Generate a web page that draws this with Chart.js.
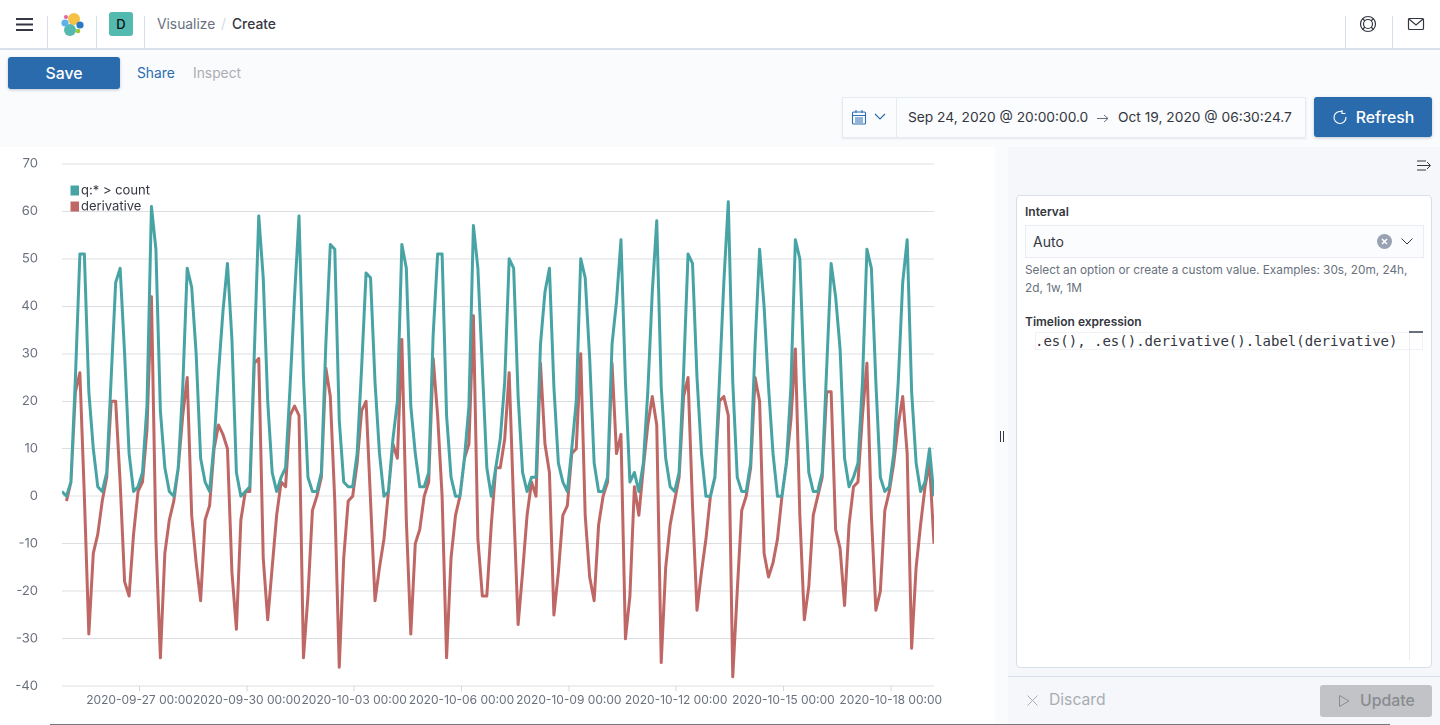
<!DOCTYPE html>
<html><head><meta charset="utf-8">
<script src="https://cdn.jsdelivr.net/npm/chart.js@4/dist/chart.umd.min.js"></script>
<style>
html,body{margin:0;padding:0;width:1440px;height:725px;overflow:hidden;background:#fafbfd;font-family:Inter,sans-serif;color:#343741}
.a{position:absolute;white-space:nowrap}
.v{position:absolute;width:1px;background:#d8dfec}
.btn{position:absolute;background:#2a6bae;border-radius:3px;color:#fff;box-shadow:0 1px 3px rgba(50,70,110,.3);display:flex;align-items:center;justify-content:center;font-weight:500;font-size:15.8px}
svg{position:absolute;overflow:visible}
</style></head><body>
<div class="a" style="left:0;top:0;width:1440px;height:48px;background:#fff;border-bottom:2px solid #d9e0eb"></div>
<svg style="left:16px;top:18px" width="17" height="13"><path d="M0 1h17M0 6.5h17M0 12h17" stroke="#343741" stroke-width="2"/></svg>
<div class="v" style="left:47px;top:16px;height:32px"></div><div class="v" style="left:96px;top:16px;height:32px"></div><div class="v" style="left:144px;top:16px;height:32px"></div>
<div class="v" style="left:1345px;top:16px;height:32px"></div><div class="v" style="left:1392px;top:16px;height:32px"></div>
<svg style="left:61px;top:13px" width="24" height="24"><circle cx="13" cy="6" r="6" fill="#f6c244"/><circle cx="9" cy="17" r="6" fill="#56b9ad"/><circle cx="4" cy="10" r="3.6" fill="#5db2ec"/><circle cx="5" cy="4" r="2" fill="#e5609f"/><circle cx="19" cy="12" r="3.6" fill="#2b78c8"/><circle cx="17" cy="18" r="2.3" fill="#9cc83c"/></svg>
<div class="a" style="left:109px;top:12px;width:24px;height:24px;background:#54b9ae;border-radius:3px;font-size:13px;font-weight:500;text-align:center;line-height:24px;color:#111">D</div>
<div class="a" style="left:157px;top:15.500px;font-size:13.8px;color:#69707d">Visualize</div>
<div class="a" style="left:221px;top:15.500px;font-size:13.8px;color:#d3dae6">/</div>
<div class="a" style="left:232px;top:15.500px;font-size:13.8px;font-weight:500">Create</div>
<svg style="left:1360px;top:16px" width="16" height="16" fill="none" stroke="#343741" stroke-width="1.2"><circle cx="8" cy="8" r="7.500"/><circle cx="8" cy="8" r="4.500"/><path d="M2.500 2.500l2.500 2.500M13.500 2.500l-2.500 2.500M2.500 13.500l2.500-2.500M13.500 13.500l-2.500-2.500"/></svg>
<svg style="left:1408px;top:18px" width="16" height="12" fill="none" stroke="#343741" stroke-width="1.2"><rect x=".5" y=".5" width="15" height="11" rx="1"/><path d="M1 1l7 6 7-6"/></svg>

<div class="btn" style="left:8px;top:57px;width:112px;height:32px">Save</div>
<div class="a" style="left:137px;top:64.500px;font-size:13.8px;color:#2a6db0">Share</div>
<div class="a" style="left:193px;top:64.500px;font-size:13.8px;color:#a9adb3">Inspect</div>

<div class="a" style="left:842px;top:97px;width:462px;height:39px;background:#fbfcfd;border:1px solid #e6eaf1;box-shadow:0 1px 2px rgba(50,70,110,.1)"></div>
<div class="v" style="left:896px;top:98px;height:39px;background:#e6eaf1"></div>
<svg style="left:852px;top:110px" width="15" height="15" fill="none" stroke="#2a6db0" stroke-width="1.1"><rect x=".5" y="2" width="13" height="12" rx="1"/><path d="M.5 5.500h13M4 0v3M10 0v3M3 8h8M3 10h8M3 12h8" /></svg>
<svg style="left:874px;top:113px" width="12" height="8" fill="none" stroke="#2a6db0" stroke-width="1.2"><path d="M1 1l5 5 5-5"/></svg>
<div class="a" style="left:908px;top:109px;font-size:13.75px">Sep 24, 2020 @ 20:00:00.0</div>
<svg style="left:1097px;top:114px" width="12" height="9" fill="none" stroke="#69707d" stroke-width="1"><path d="M0 4.500h11M7 1l4 3.500-4 3.500"/></svg>
<div class="a" style="left:1118px;top:109px;font-size:13.75px">Oct 19, 2020 @ 06:30:24.7</div>
<div class="btn" style="left:1314px;top:97px;width:118px;height:40px;padding-left:24px;box-sizing:border-box">Refresh</div>
<svg style="left:1333px;top:110px" width="14" height="14" fill="none" stroke="#fff" stroke-width="1.1"><path d="M9 1.800A6 6 0 1 0 13 7M9 0v3.500h3.500"/></svg>

<div class="a" style="left:0;top:147px;width:995px;height:578px;background:#fff"></div>
<div class="a" style="left:1008px;top:147px;width:432px;height:578px;background:#f5f7fa"></div>
<svg style="left:1417px;top:160px" width="14" height="11" fill="none" stroke="#343741" stroke-width="1"><path d="M0 1h9M0 5.500h13M0 10h9M10 2l3.500 3.500L10 9"/></svg>
<svg style="left:1000px;top:431px" width="5" height="11"><path d="M.5 0v11M3.500 0v11" stroke="#343741" stroke-width="1"/></svg>

<div class="a" style="left:1016px;top:195px;width:414px;height:471px;background:#fff;border:1px solid #d8dfec;border-radius:4px"></div>
<div class="a" style="left:1025px;top:204px;font-size:12px;font-weight:600">Interval</div>
<div class="a" style="left:1025px;top:225px;width:397px;height:31px;background:#fbfcfd;border:1px solid #e9edf3"></div>
<div class="a" style="left:1033px;top:233px;font-size:14px">Auto</div>
<svg style="left:1377px;top:234px" width="15" height="15"><circle cx="7.500" cy="7.500" r="7.500" fill="#98a2b3"/><path d="M5 5l5 5M10 5l-5 5" stroke="#fff" stroke-width="1.5"/></svg>
<svg style="left:1401px;top:238px" width="12" height="7" fill="none" stroke="#343741" stroke-width="1"><path d="M.5.500l5.500 5.500 5.500-5.500"/></svg>
<div class="a" style="left:1025px;top:261px;font-size:11.8px;line-height:18px;color:#69707d">Select an option or create a custom value. Examples: 30s, 20m, 24h,<br>2d, 1w, 1M</div>
<div class="a" style="left:1025px;top:314px;font-size:12px;font-weight:600">Timelion expression</div>
<div class="a" style="left:1035px;top:332px;width:388px;height:18px;border:1px solid #f0f2f6;box-sizing:border-box"></div>
<div class="a" style="left:1035px;top:332.500px;font-family:'DejaVu Sans Mono',monospace;font-size:14px;line-height:17px">.es(), .es().derivative().label(derivative)</div>
<div class="a" style="left:1409px;top:331px;width:14px;height:2px;background:#69707d"></div>
<div class="a" style="left:1409px;top:333px;width:1px;height:327px;background:#e9edf3"></div>

<div class="a" style="left:1008px;top:676px;width:432px;height:1px;background:#d8dfec"></div>
<svg style="left:1027px;top:695px" width="11" height="11"><path d="M.5.500l10 10M10.500.500l-10 10" stroke="#a9adb3" stroke-width="1"/></svg>
<div class="a" style="left:1049px;top:690px;font-size:15.7px;color:#a9adb3">Discard</div>
<div class="a" style="left:1320px;top:685px;width:112px;height:32px;background:#c2c3c6;border-radius:3px"></div>
<svg style="left:1339px;top:695px" width="11" height="12" fill="none" stroke="#8a8d92" stroke-width="1"><path d="M.5.500v11l9.500-5.500z"/></svg>
<div class="a" style="left:1360px;top:690.500px;font-size:15.8px;font-weight:500;color:#898b90">Update</div>

<div class="a" style="left:0;top:132px;width:995px;height:586px"><canvas id="c" width="995" height="586"></canvas></div>
<div class="a" style="left:50px;top:724px;width:1340px;height:1px;background:#777"></div>

<script>
const intervalHours = 3;
const seriesNames = ['q:* > count', 'derivative'];
const countValues = [1,0,3,25,51,51,22,10,2,1,5,25,45,48,30,9,1,2,5,19,61,52,18,6,1,0,6,23,48,44,30,8,3,1,11,26,39,49,33,5,0,1,2,30,59,46,20,5,1,4,6,23,42,59,25,4,1,1,5,32,53,52,16,3,2,2,9,27,47,46,24,9,0,1,12,20,53,48,19,9,2,2,5,34,51,51,17,4,0,0,8,19,57,48,27,6,0,6,12,24,50,48,21,5,1,4,4,32,43,48,23,7,3,1,10,20,50,46,29,7,1,1,4,32,41,54,24,3,5,1,7,22,43,58,23,8,2,1,5,26,51,49,25,9,0,0,4,24,45,62,24,4,1,1,7,32,52,40,23,9,0,0,7,23,54,50,24,5,1,1,5,27,49,42,31,8,2,4,7,24,52,48,24,4,1,2,9,24,45,54,22,7,1,3,10,0];
const derivativeValues = [null,-1,3,22,26,0,-29,-12,-8,-1,4,20,20,3,-18,-21,-8,1,3,14,42,-9,-34,-12,-5,-1,6,17,25,-4,-14,-22,-5,-2,10,15,13,10,-16,-28,-5,1,1,28,29,-13,-26,-15,-4,3,2,17,19,17,-34,-21,-3,0,4,27,21,-1,-36,-13,-1,0,7,18,20,-1,-22,-15,-9,1,11,8,33,-5,-29,-10,-7,0,3,29,17,0,-34,-13,-4,0,8,11,38,-9,-21,-21,-6,6,6,12,26,-2,-27,-16,-4,3,0,28,11,5,-25,-16,-4,-2,9,10,30,-4,-17,-22,-6,0,3,28,9,13,-30,-21,2,-4,6,15,21,15,-35,-15,-6,-1,4,21,25,-2,-24,-16,-9,0,4,20,21,17,-38,-20,-3,0,6,25,20,-12,-17,-14,-9,0,7,16,31,-4,-26,-19,-4,0,4,22,22,-7,-11,-23,-6,2,3,17,28,-4,-24,-20,-3,1,7,15,21,9,-32,-15,-6,2,7,-10];
const tickHours = [52,124,196,268,340,412,484,556];
const tickLabels = ['2020-09-27 00:00','2020-09-30 00:00','2020-10-03 00:00','2020-10-06 00:00','2020-10-09 00:00','2020-10-12 00:00','2020-10-15 00:00','2020-10-18 00:00'];
const yTicks = [70,60,50,40,30,20,10,0,-10,-20,-30,-40];
const seriesColors = ['#48a4a4','#be6764'];

const toPoints = vals => vals.map((y,i)=>({x:i*intervalHours,y}));
// Legend swatch: a 10px square image, so the label sits close to it as in the reference.
const swatch = color => {const s=document.createElement('canvas');s.width=10;s.height=10;const g=s.getContext('2d');g.fillStyle=color;g.fillRect(0,0,10,10);return s;};
const legendShift = {id:'legendShift',afterLayout(chart){chart.legend.left+=8.5;chart.legend.top+=49;}};
new Chart(document.getElementById('c'),{
  type:'line',
  data:{datasets:[0,1].map(k=>({label:seriesNames[k],data:toPoints(k?derivativeValues:countValues),borderColor:seriesColors[k],backgroundColor:seriesColors[k],borderWidth:3,pointRadius:0,pointStyle:swatch(seriesColors[k]),tension:0,borderJoinStyle:'round'}))},
  options:{
    responsive:false,animation:false,devicePixelRatio:2,
    layout:{padding:{top:15,right:61,bottom:0,left:0}},
    plugins:{tooltip:{enabled:false},
      legend:{position:'chartArea',align:'start',labels:{usePointStyle:true,pointStyleWidth:1,boxHeight:10,padding:3,color:'#343741',font:{family:'Inter',size:13}}}},
    scales:{
      x:{type:'linear',min:0,max:(countValues.length-1)*intervalHours,
        afterBuildTicks(ax){ax.ticks=tickHours.map(v=>({value:v}));},
        afterFit(ax){ax.height=25.4;},
        ticks:{autoSkip:false,maxRotation:0,minRotation:0,padding:2,color:'#69707d',font:{family:'Inter',size:12},
          callback(v){return tickLabels[tickHours.indexOf(v)];}},
        grid:{drawOnChartArea:false,drawTicks:true,tickLength:5,color:'#d3d6da'},border:{display:false}},
      y:{type:'linear',min:-40,max:70,
        afterBuildTicks(ax){ax.ticks=yTicks.map(v=>({value:v}));},
        afterFit(ax){ax.width=62;},
        ticks:{padding:24,color:'#69707d',font:{family:'Inter',size:13}},
        grid:{drawTicks:false,color:'#dcdee1',lineWidth:1},border:{display:false}}
    }
  },
  plugins:[legendShift]
});
</script>
</body></html>
